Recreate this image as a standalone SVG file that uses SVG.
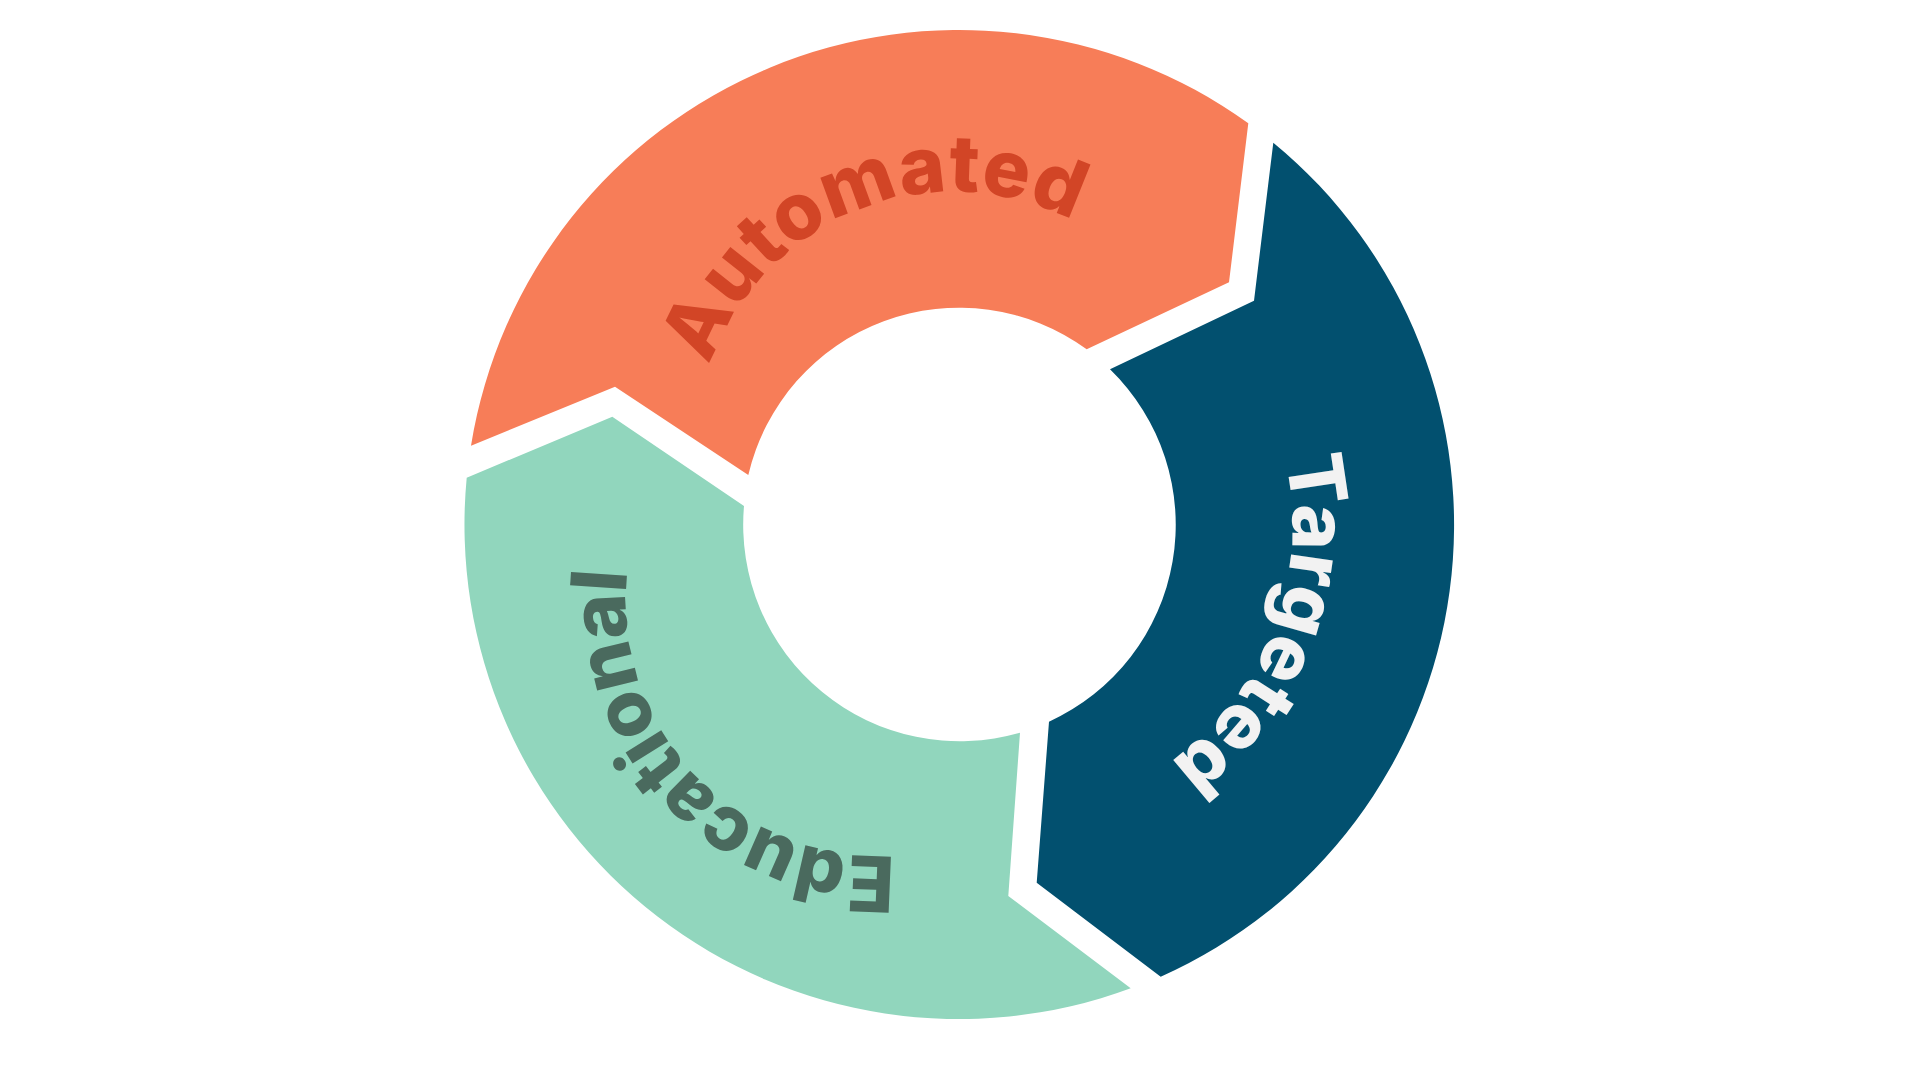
<svg xmlns="http://www.w3.org/2000/svg" xmlns:xlink="http://www.w3.org/1999/xlink" width="1920" height="1080" viewBox="0 0 1920 1080">
  <style>
    .lbl { font-family: Inter, "Noto Sans", "Liberation Sans", sans-serif; font-weight: 800; font-style: normal; text-anchor: middle; }
    .seg-orange { fill: #F77D58; }
    .seg-blue { fill: #02506F; }
    .seg-green { fill: #91D6BD; }
    .txt-orange { fill: #D24526; }
    .txt-blue { fill: #F2F2F2; }
    .txt-green { fill: #4A6A5E; }
  </style>
  <defs>
    <path id="arcAutomated" d="M 706.9,524.4 A 258 258 0 0 1 1184.4,333.9"/>
    <path id="arcTargeted" d="M 1127.9,261.6 A 291.5 291.5 0 0 1 921.6,804.5"/>
    <path id="arcEducational" d="M 1040.9,801.3 A 256.5 256.5 0 0 1 690.5,429.4"/>
  </defs>
  <rect x="0" y="0" width="1920" height="1080" fill="#FFFFFF"/>
  <g id="connectors"/>
  <g id="node-automated">
    <path class="seg-orange" d="M 471,445.7 A 494.5 494.5 0 0 1 1248.3,123.3 L 1229,282.3 L 1086.7,349.3 A 216.5 216.5 0 0 0 748.3,475 L 615,386.7 Z"/>
    <text class="lbl txt-orange" font-size="79"><textPath xlink:href="#arcAutomated" href="#arcAutomated" startOffset="50%" textLength="443" lengthAdjust="spacing">Automated</textPath></text>
  </g>
  <g id="node-targeted">
    <path class="seg-blue" d="M 1273.3,142.7 A 494.5 494.5 0 0 1 1160.7,976.7 L 1036.7,882.7 L 1049,721.7 A 216.5 216.5 0 0 0 1110,369.3 L 1254,300.7 Z"/>
    <text class="lbl txt-blue" font-size="77"><textPath xlink:href="#arcTargeted" href="#arcTargeted" startOffset="50%" textLength="345" lengthAdjust="spacing">Targeted</textPath></text>
  </g>
  <g id="node-educational">
    <path class="seg-green" d="M 1130.7,988.3 A 494.5 494.5 0 0 1 466.7,477.7 L 612.3,416.7 L 744,506 A 216.5 216.5 0 0 0 1020,732.7 L 1008.3,896 Z"/>
    <text class="lbl txt-green" font-size="77"><textPath xlink:href="#arcEducational" href="#arcEducational" startOffset="50%" textLength="444" lengthAdjust="spacing">Educational</textPath></text>
  </g>
</svg>
